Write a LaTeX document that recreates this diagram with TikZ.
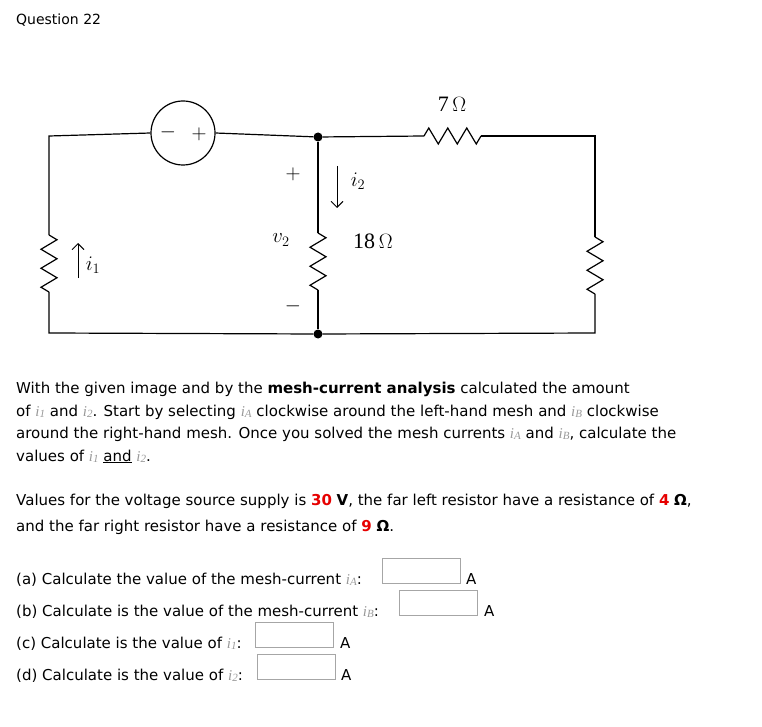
\documentclass[tikz,border=0pt]{standalone}
\usepackage{fontspec}
\setmainfont{DejaVu Sans}
\newfontfamily\serf{Liberation Serif}
\usetikzlibrary{decorations.pathmorphing,arrows.meta}
\definecolor{qred}{RGB}{230,0,0}
\newcommand{\cur}[1]{{\color{gray!80}\serf\fontsize{15}{17}\selectfont\textit{i}\raisebox{-1pt}{\fontsize{11}{12}\selectfont\textit{#1}}}}
\begin{document}
\begin{tikzpicture}[x=1pt,y=-1pt,
  wire/.style={line width=1.2pt},
  zz/.style={wire,decorate,decoration={zigzag,amplitude=8pt,segment length=19pt}},
  txt/.style={anchor=base west,inner sep=0pt,font=\fontsize{15}{17}\selectfont},
  clab/.style={font=\serf\fontsize{22}{22}\selectfont,inner sep=0pt},
  ansbox/.style={draw=gray!70,line width=0.8pt,minimum width=78pt,minimum height=25pt,inner sep=0pt,anchor=north west}]
\useasboundingbox (0,0) rectangle (762,727);
% circuit coordinates
\coordinate (TL) at (49,136);
\coordinate (BL) at (49,333);
\coordinate (TR) at (595,136);
\coordinate (BR) at (595,333);
\coordinate (L1) at (49,235); \coordinate (L2) at (49,292);
\coordinate (M1) at (318,233); \coordinate (M2) at (318,290);
\coordinate (R1) at (595,237); \coordinate (R2) at (595,294);
\coordinate (H1) at (424,136); \coordinate (H2) at (481,136);
\node[draw,circle,line width=1.2pt,minimum size=64pt,inner sep=0pt] (src) at (183,133) {};
\node[circle,fill,inner sep=0pt,minimum size=9pt] (ntop) at (318,137) {};
\node[circle,fill,inner sep=0pt,minimum size=9pt] (nbot) at (318,334) {};
\draw[wire] (src.west) -- (TL) -- (L1);
\draw[zz] (L1) -- (L2);
\draw[wire] (L2) -- (BL) -- (nbot) -- (BR) -- (R2);
\draw[zz] (R2) -- (R1);
\draw[wire] (R1) -- (TR) -- (H2);
\draw[zz] (H2) -- (H1);
\draw[wire] (H1) -- (ntop) -- (src.east);
\draw[wire] (ntop) -- (M1);
\draw[zz] (M1) -- (M2);
\draw[wire] (M2) -- (nbot);
\node[font=\fontsize{20}{20}\selectfont] (sm) at (168,132) {$-$};
\node[font=\fontsize{20}{20}\selectfont] (sp) at (199,134) {$+$};
% labels
\node[clab] (l7) at (452,104) {7\,$\Omega$};
\node[clab] (l18) at (373,241) {18\,$\Omega$};
\node[clab] (lv2) at (281,240) {$v_2$};
\node[font=\fontsize{20}{20}\selectfont] (pl) at (293,174) {$+$};
\node[font=\fontsize{20}{20}\selectfont] (mi) at (293,306) {$-$};
\coordinate (a1s) at (78,278); \coordinate (a1e) at (78,243);
\draw[line width=0.9pt,-{Straight Barb[length=6pt]}] (a1s) -- (a1e);
\node[clab] (li1) at (93,265) {$i_1$};
\coordinate (a2s) at (337,166); \coordinate (a2e) at (337,208);
\draw[line width=0.9pt,-{Straight Barb[length=6pt]}] (a2s) -- (a2e);
\node[clab] (li2) at (358,181) {$i_2$};
% text
\node[txt,font=\fontsize{14}{16}\selectfont] (q) at (16,25) {Question 22};
\node[txt] (t1) at (16,393) {With the given image and by the \textbf{mesh-current analysis} calculated the amount};
\node[txt] (t2) at (16,416) {of \cur{1} and \cur{2}. Start by selecting \cur{A} clockwise around the left-hand mesh and \cur{B} clockwise};
\node[txt] (t3) at (16,438) {around the right-hand mesh. Once you solved the mesh currents \cur{A} and \cur{B}, calculate the};
\node[txt] (t4) at (16,461) {values of \cur{1} \underline{and} \cur{2}.};
\node[txt] (t5) at (16,505) {Values for the voltage source supply is \textcolor{qred}{\textbf{30}} \textbf{V}, the far left resistor have a resistance of \textcolor{qred}{\textbf{4}} \textbf{Ω},};
\node[txt] (t6) at (16,531) {and the far right resistor have a resistance of \textcolor{qred}{\textbf{9}} \textbf{Ω}.};
\node[txt] (qa) at (16,584) {(a) Calculate the value of the mesh-current \cur{A}:};
\node[txt] (qb) at (16,616) {(b) Calculate is the value of the mesh-current \cur{B}:};
\node[txt] (qc) at (16,648) {(c) Calculate is the value of \cur{1}:};
\node[txt] (qd) at (16,680) {(d) Calculate is the value of \cur{2}:};
\node[ansbox] (ba) at (382,558) {};
\node[ansbox] (bb) at (399,590) {};
\node[ansbox] (bc) at (255,622) {};
\node[ansbox] (bd) at (257,654) {};
\node[txt] (ua) at (466,584) {A};
\node[txt] (ub) at (484,616) {A};
\node[txt] (uc) at (340,648) {A};
\node[txt] (ud) at (341,680) {A};
\end{tikzpicture}
\end{document}
